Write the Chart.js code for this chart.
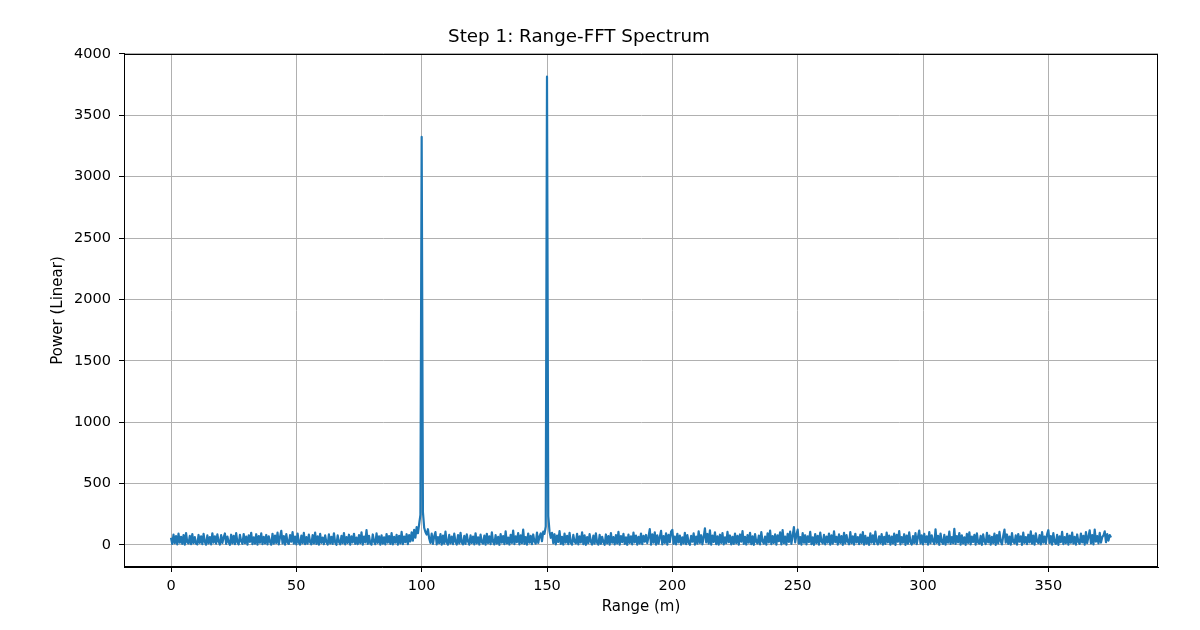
<!DOCTYPE html>
<html>
<head>
<meta charset="utf-8">
<script src="https://cdn.jsdelivr.net/npm/chart.js@4.4.1/dist/chart.umd.min.js"></script>
<style>
  html, body { margin: 0; padding: 0; background: #ffffff; }
  #wrap { width: 1200px; height: 630px; }
</style>
</head>
<body>
<div id="wrap"><canvas id="c" width="1200" height="630"></canvas></div>
<script>
// ---- data ----
const chartTitle = 'Step 1: Range-FFT Spectrum';
const xAxisLabel = 'Range (m)';
const yAxisLabel = 'Power (Linear)';
const xTicks = [0, 50, 100, 150, 200, 250, 300, 350];
const yTicks = [0, 500, 1000, 1500, 2000, 2500, 3000, 3500, 4000];
const rangeStartM = 0;
const binSpacingM = 0.5;
const powerLinear = [
  58,8,84,14,71,5,92,18,66,9,79,3,97,21,12,74,6,88,15,63,11,4,81,17,69,
  7,90,24,2,77,13,64,5,95,19,70,10,86,27,3,80,16,61,93,8,68,22,1,83,12,
  73,6,96,20,4,82,29,9,89,14,67,2,78,25,99,7,62,11,87,3,72,18,94,6,65,
  13,81,4,70,23,2,91,10,76,16,101,5,64,115,12,72,3,88,20,8,79,26,105,11,67,
  5,93,19,2,75,14,98,7,63,10,84,22,4,80,13,100,9,69,3,90,17,60,6,77,21,
  3,86,12,66,8,95,18,1,78,24,5,73,14,97,4,64,16,83,2,70,20,91,9,59,6,
  80,15,103,3,67,21,120,8,74,12,2,85,26,6,94,17,69,3,77,10,62,5,89,19,72,
  9,97,4,65,18,82,2,74,13,106,6,68,22,87,7,79,28,102,35,122,60,145,95,170,245,
  3324,268,140,105,84,128,52,16,92,9,70,104,5,63,14,88,3,75,11,108,20,2,81,13,67,
  6,92,25,3,79,12,99,18,4,73,8,86,29,2,77,16,68,5,95,13,62,3,84,21,10,
  75,2,91,15,69,7,102,24,4,80,11,65,1,88,19,72,6,111,12,60,3,82,17,117,7,
  70,22,97,5,77,14,124,9,64,2,93,18,74,6,85,26,11,101,16,68,94,30,108,90,150,
  3815,235,110,58,98,14,87,5,76,24,112,9,65,3,92,19,73,7,98,16,2,81,27,12,90,
  4,69,20,102,6,77,1,64,14,88,26,3,75,11,94,17,2,82,8,66,22,1,85,13,71,
  2,96,18,63,5,79,13,106,2,72,23,90,8,61,1,84,16,69,4,100,21,76,3,65,12,
  93,7,74,26,81,15,67,128,3,86,19,103,2,78,10,64,114,5,71,17,95,3,82,23,108,
  122,9,68,4,91,21,76,2,62,13,99,6,80,18,1,73,26,94,3,67,11,110,16,79,5,
  64,135,20,89,10,118,3,75,24,102,7,70,2,83,17,96,5,61,14,106,22,77,4,66,9,
  92,15,73,2,85,27,112,8,65,3,80,19,99,6,69,1,88,23,12,76,4,104,29,10,67,
  3,94,21,116,7,71,16,86,2,78,30,103,5,121,14,68,3,90,25,109,9,75,145,20,83,
  124,11,64,2,96,18,79,4,70,23,106,7,61,1,89,15,74,3,101,26,12,82,5,67,19,
  93,2,77,10,111,22,65,3,86,16,72,1,98,12,80,27,5,104,14,69,2,91,21,63,6,
  84,17,105,3,74,11,59,1,94,19,77,7,108,24,4,70,15,88,2,65,9,100,21,76,3,
  68,13,92,1,81,26,113,5,63,18,87,1,75,10,102,22,3,72,16,96,7,64,117,12,78,
  4,90,20,69,2,105,14,77,29,6,126,17,74,1,93,24,9,82,3,67,19,109,8,64,15,
  131,8,71,21,97,2,78,13,62,1,90,16,103,5,67,24,82,3,94,18,10,73,1,86,27,
  7,99,20,76,2,65,15,92,1,80,12,107,29,4,72,124,19,85,8,68,2,96,23,13,77,
  3,89,26,70,1,101,17,64,6,83,21,110,10,75,2,94,28,15,79,4,104,19,68,11,87,
  120,16,72,3,96,25,9,82,1,69,22,106,7,63,14,91,3,76,18,100,11,65,2,85,24,
  8,93,20,74,2,105,15,66,119,12,80,5,124,27,71,13,98,19,63,77,111,22,88,35,80,
  60
];

// ---- build the table the library needs ----
const points = powerLinear.map((v, i) => ({ x: rangeStartM + i * binSpacingM, y: v }));

const FONT = 'DejaVu Sans';

const frameBox = {
  id: 'frameBox',
  afterDraw(chart) {
    const a = chart.chartArea, ctx = chart.ctx;
    ctx.save();
    ctx.strokeStyle = '#000000';
    ctx.lineWidth = 1;
    ctx.strokeRect(Math.round(a.left) + 0.5, Math.round(a.top) + 0.5,
                   Math.round(a.right - a.left) - 1, Math.round(a.bottom - a.top) - 1);
    ctx.restore();
  }
};

new Chart(document.getElementById('c'), {
  type: 'line',
  data: {
    datasets: [{
      data: points,
      borderColor: '#1f77b4',
      backgroundColor: '#1f77b4',
      borderWidth: 2.2,
      borderJoinStyle: 'round',
      borderCapStyle: 'butt',
      pointRadius: 0,
      tension: 0,
      fill: false
    }]
  },
  options: {
    responsive: false,
    animation: false,
    events: [],
    layout: { padding: { top: 0, right: 42, bottom: 0, left: 0 } },
    plugins: {
      legend: { display: false },
      tooltip: { enabled: false },
      title: {
        display: true,
        text: chartTitle,
        color: '#000000',
        font: { family: FONT, size: 18.3, weight: 'normal', lineHeight: 1.2 },
        padding: { top: 26.5, bottom: 5.5 }
      }
    },
    scales: {
      x: {
        type: 'linear',
        min: -18.75,
        max: 393.75,
        afterBuildTicks: s => { s.ticks = xTicks.map(v => ({ value: v })); },
        afterFit: s => { s.height = 63; },
        ticks: {
          color: '#000000',
          font: { family: FONT, size: 14.5 },
          padding: 6,
          maxRotation: 0,
          autoSkip: false,
          callback: v => String(v)
        },
        grid: { color: '#b0b0b0', lineWidth: 1, tickColor: '#000000', tickLength: 5, drawTicks: true },
        border: { color: '#000000', width: 1 },
        title: {
          display: true,
          text: xAxisLabel,
          color: '#000000',
          font: { family: FONT, size: 15, lineHeight: 1.2 },
          padding: { top: 4, bottom: 14 }
        }
      },
      y: {
        type: 'linear',
        min: -180,
        max: 4000,
        afterBuildTicks: s => { s.ticks = yTicks.map(v => ({ value: v })); },
        afterFit: s => { s.width = 124; },
        ticks: {
          color: '#000000',
          font: { family: FONT, size: 14.5 },
          padding: 8,
          autoSkip: false,
          callback: v => String(v)
        },
        grid: { color: '#b0b0b0', lineWidth: 1, tickColor: '#000000', tickLength: 5, drawTicks: true },
        border: { color: '#000000', width: 1 },
        title: {
          display: true,
          text: yAxisLabel,
          color: '#000000',
          font: { family: FONT, size: 15, lineHeight: 1.2 },
          padding: { top: 49.5, bottom: 4 }
        }
      }
    }
  },
  plugins: [frameBox]
});
</script>
</body>
</html>
